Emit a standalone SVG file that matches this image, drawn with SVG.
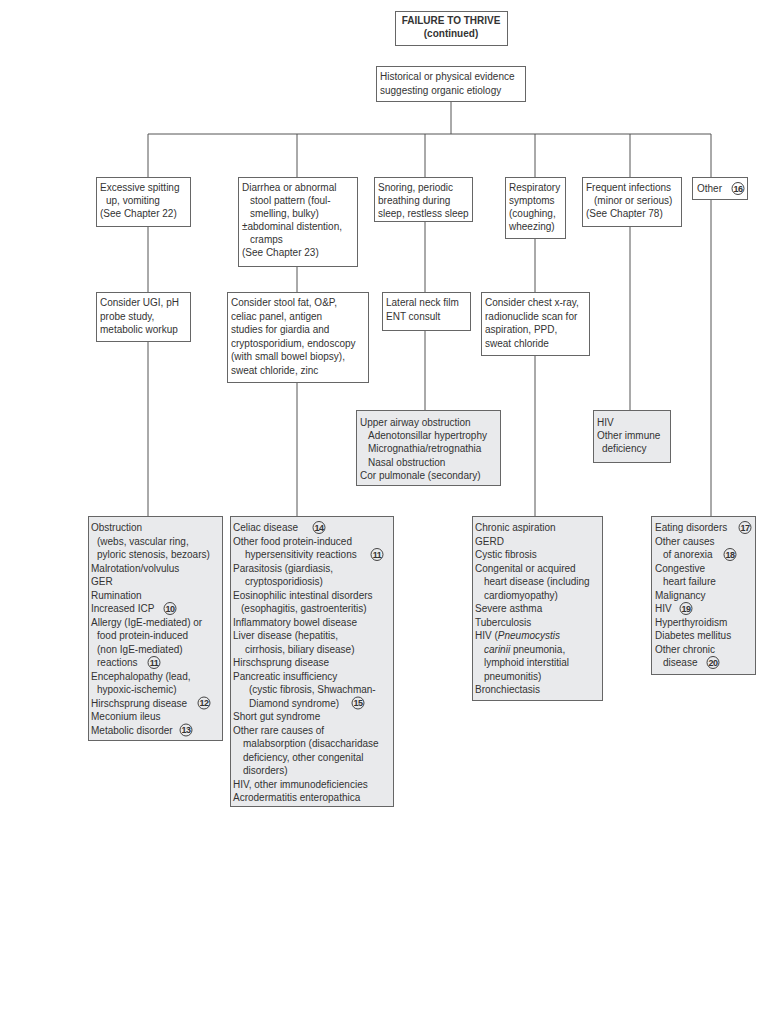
<svg xmlns="http://www.w3.org/2000/svg" width="768" height="1024" viewBox="0 0 768 1024">
<style>
.bx{fill:#fff;stroke:#666;stroke-width:1}
.gb{fill:#e9eaec;stroke:#666;stroke-width:1}
.ln{stroke:#555;stroke-width:1;fill:none}
text{font-family:"Liberation Sans",Arial,sans-serif;font-size:10px;fill:#333}
.b{font-weight:bold}
.c{fill:none;stroke:#444;stroke-width:1}
.n{font-size:9px;font-weight:bold;text-anchor:middle;letter-spacing:-0.5px}
</style>
<rect width="768" height="1024" fill="#fff"/>
<g id="connectors">
<path class="ln" d="M451 101V134M148 134H711M148 134V177M297 134V177M425 134V177M535 134V177M630 134V177M711 134V177"/>
<path class="ln" d="M148 226V292M148 341V516M297 266V292M297 382V516M425 221V292M425 330V410M535 238V292M535 355V516M630 226V410M711 199V516"/>
</g>
<g id="title">
<rect class="bx" x="395.500" y="11.500" width="112" height="34"/>
<text class="b" x="451" y="24" text-anchor="middle">FAILURE TO THRIVE</text>
<text class="b" x="451" y="37" text-anchor="middle">(continued)</text>
</g>
<g id="evidence">
<rect class="bx" x="376.500" y="66.500" width="149" height="35"/>
<text x="380" y="80">Historical or physical evidence</text>
<text x="380" y="94">suggesting organic etiology</text>
</g>
<g id="spitting">
<rect class="bx" x="96.500" y="177.500" width="94" height="49"/>
<text x="100" y="191">Excessive spitting</text>
<text x="106" y="204">up, vomiting</text>
<text x="100" y="217">(See Chapter 22)</text>
</g>
<g id="diarrhea">
<rect class="bx" x="238.500" y="177.500" width="119" height="89"/>
<text x="242" y="191">Diarrhea or abnormal</text>
<text x="250" y="204">stool pattern (foul-</text>
<text x="250" y="217">smelling, bulky)</text>
<text x="242" y="230">±abdominal distention,</text>
<text x="250" y="243">cramps</text>
<text x="242" y="256">(See Chapter 23)</text>
</g>
<g id="snoring">
<rect class="bx" x="374.500" y="177.500" width="98" height="44"/>
<text x="378" y="191">Snoring, periodic</text>
<text x="378" y="204">breathing during</text>
<text x="378" y="217">sleep, restless sleep</text>
</g>
<g id="respiratory">
<rect class="bx" x="505.500" y="177.500" width="60" height="61"/>
<text x="509" y="191">Respiratory</text>
<text x="509" y="204">symptoms</text>
<text x="509" y="217">(coughing,</text>
<text x="509" y="230">wheezing)</text>
</g>
<g id="infections">
<rect class="bx" x="582.500" y="177.500" width="99" height="49"/>
<text x="586" y="191">Frequent infections</text>
<text x="594" y="204">(minor or serious)</text>
<text x="586" y="217">(See Chapter 78)</text>
</g>
<g id="other">
<rect class="bx" x="692.500" y="177.500" width="55" height="22"/>
<text x="697" y="192">Other</text>
<circle class="c" cx="738" cy="188.500" r="6"/>
<text class="n" x="738" y="191.800">16</text>
</g>
<g id="ugi">
<rect class="bx" x="96.500" y="292.500" width="94" height="49"/>
<text x="100" y="306">Consider UGI, pH</text>
<text x="100" y="319.500">probe study,</text>
<text x="100" y="333">metabolic workup</text>
</g>
<g id="stool">
<rect class="bx" x="227.500" y="292.500" width="141" height="90"/>
<text x="231" y="306">Consider stool fat, O&amp;P,</text>
<text x="231" y="319.500">celiac panel, antigen</text>
<text x="231" y="333">studies for giardia and</text>
<text x="231" y="346.500">cryptosporidium, endoscopy</text>
<text x="231" y="360">(with small bowel biopsy),</text>
<text x="231" y="373.500">sweat chloride, zinc</text>
</g>
<g id="neck">
<rect class="bx" x="382.500" y="292.500" width="88" height="38"/>
<text x="386" y="306">Lateral neck film</text>
<text x="386" y="319.500">ENT consult</text>
</g>
<g id="chest">
<rect class="bx" x="481.500" y="292.500" width="108" height="63"/>
<text x="485" y="306">Consider chest x-ray,</text>
<text x="485" y="319.500">radionuclide scan for</text>
<text x="485" y="333">aspiration, PPD,</text>
<text x="485" y="346.500">sweat chloride</text>
</g>
<g id="airway">
<rect class="gb" x="356.500" y="410.500" width="144" height="75"/>
<text x="360" y="426">Upper airway obstruction</text>
<text x="368" y="439">Adenotonsillar  hypertrophy</text>
<text x="368" y="452">Micrognathia/retrognathia</text>
<text x="368" y="466">Nasal obstruction</text>
<text x="360" y="479">Cor pulmonale (secondary)</text>
</g>
<g id="hiv">
<rect class="gb" x="593.500" y="410.500" width="77" height="52"/>
<text x="597" y="426">HIV</text>
<text x="597" y="439">Other immune</text>
<text x="602" y="452">deficiency</text>
</g>
<g id="gi-causes">
<rect class="gb" x="88.500" y="516.500" width="134" height="224"/>
<text x="91" y="531">Obstruction</text>
<text x="97" y="544.500">(webs, vascular ring,</text>
<text x="97" y="558">pyloric stenosis, bezoars)</text>
<text x="91" y="571.500">Malrotation/volvulus</text>
<text x="91" y="585">GER</text>
<text x="91" y="598.500">Rumination</text>
<text x="91" y="612">Increased ICP</text>
<circle class="c" cx="170" cy="608.500" r="6"/><text class="n" x="170" y="611.800">10</text>
<text x="91" y="625.500">Allergy (IgE-mediated) or</text>
<text x="97" y="639">food protein-induced</text>
<text x="97" y="652.500">(non IgE-mediated)</text>
<text x="97" y="666">reactions</text>
<circle class="c" cx="154" cy="662.500" r="6"/><text class="n" x="154" y="665.800">11</text>
<text x="91" y="679.500">Encephalopathy (lead,</text>
<text x="97" y="693">hypoxic-ischemic)</text>
<text x="91" y="706.500">Hirschsprung disease</text>
<circle class="c" cx="204" cy="703" r="6"/><text class="n" x="204" y="706.300">12</text>
<text x="91" y="720">Meconium ileus</text>
<text x="91" y="733.500">Metabolic disorder</text>
<circle class="c" cx="186" cy="730" r="6"/><text class="n" x="186" y="733.300">13</text>
</g>
<g id="malabsorption">
<rect class="gb" x="230.500" y="516.500" width="163" height="290"/>
<text x="233" y="531">Celiac disease</text>
<circle class="c" cx="319" cy="527.500" r="6"/><text class="n" x="319" y="530.800">14</text>
<text x="233" y="544.500">Other food protein-induced</text>
<text x="245" y="558">hypersensitivity reactions</text>
<circle class="c" cx="377" cy="554.500" r="6"/><text class="n" x="377" y="557.800">11</text>
<text x="233" y="571.500">Parasitosis (giardiasis,</text>
<text x="245" y="585">cryptosporidiosis)</text>
<text x="233" y="598.500">Eosinophilic intestinal disorders</text>
<text x="241" y="612">(esophagitis, gastroenteritis)</text>
<text x="233" y="625.500">Inflammatory bowel disease</text>
<text x="233" y="639">Liver disease (hepatitis,</text>
<text x="245" y="652.500">cirrhosis, biliary disease)</text>
<text x="233" y="666">Hirschsprung disease</text>
<text x="233" y="679.500">Pancreatic insufficiency</text>
<text x="249" y="693">(cystic fibrosis, Shwachman-</text>
<text x="249" y="706.500">Diamond syndrome)</text>
<circle class="c" cx="358" cy="703" r="6"/><text class="n" x="358" y="706.300">15</text>
<text x="233" y="720">Short gut syndrome</text>
<text x="233" y="733.500">Other rare causes of</text>
<text x="243" y="747">malabsorption (disaccharidase</text>
<text x="243" y="760.500">deficiency, other congenital</text>
<text x="243" y="774">disorders)</text>
<text x="233" y="787.500">HIV, other immunodeficiencies</text>
<text x="233" y="801">Acrodermatitis enteropathica</text>
</g>
<g id="respiratory-causes">
<rect class="gb" x="472.500" y="516.500" width="130" height="184"/>
<text x="475" y="531">Chronic aspiration</text>
<text x="475" y="544.500">GERD</text>
<text x="475" y="558">Cystic fibrosis</text>
<text x="475" y="571.500">Congenital or acquired</text>
<text x="484" y="585">heart disease (including</text>
<text x="484" y="598.500">cardiomyopathy)</text>
<text x="475" y="612">Severe asthma</text>
<text x="475" y="625.500">Tuberculosis</text>
<text x="475" y="639">HIV (<tspan font-style="italic">Pneumocystis</tspan></text>
<text x="484" y="652.500"><tspan font-style="italic">carinii</tspan> pneumonia,</text>
<text x="484" y="666">lymphoid interstitial</text>
<text x="484" y="679.500">pneumonitis)</text>
<text x="475" y="693">Bronchiectasis</text>
</g>
<g id="other-causes">
<rect class="gb" x="651.500" y="516.500" width="104" height="158"/>
<text x="655" y="531">Eating disorders</text>
<circle class="c" cx="745" cy="527.500" r="6"/><text class="n" x="745" y="530.800">17</text>
<text x="655" y="544.500">Other causes</text>
<text x="663" y="558">of anorexia</text>
<circle class="c" cx="730" cy="554.500" r="6"/><text class="n" x="730" y="557.800">18</text>
<text x="655" y="571.500">Congestive</text>
<text x="663" y="585">heart failure</text>
<text x="655" y="598.500">Malignancy</text>
<text x="655" y="612">HIV</text>
<circle class="c" cx="686" cy="608.500" r="6"/><text class="n" x="686" y="611.800">19</text>
<text x="655" y="625.500">Hyperthyroidism</text>
<text x="655" y="639">Diabetes mellitus</text>
<text x="655" y="652.500">Other chronic</text>
<text x="663" y="666">disease</text>
<circle class="c" cx="713" cy="662.500" r="6"/><text class="n" x="713" y="665.800">20</text>
</g>
</svg>
